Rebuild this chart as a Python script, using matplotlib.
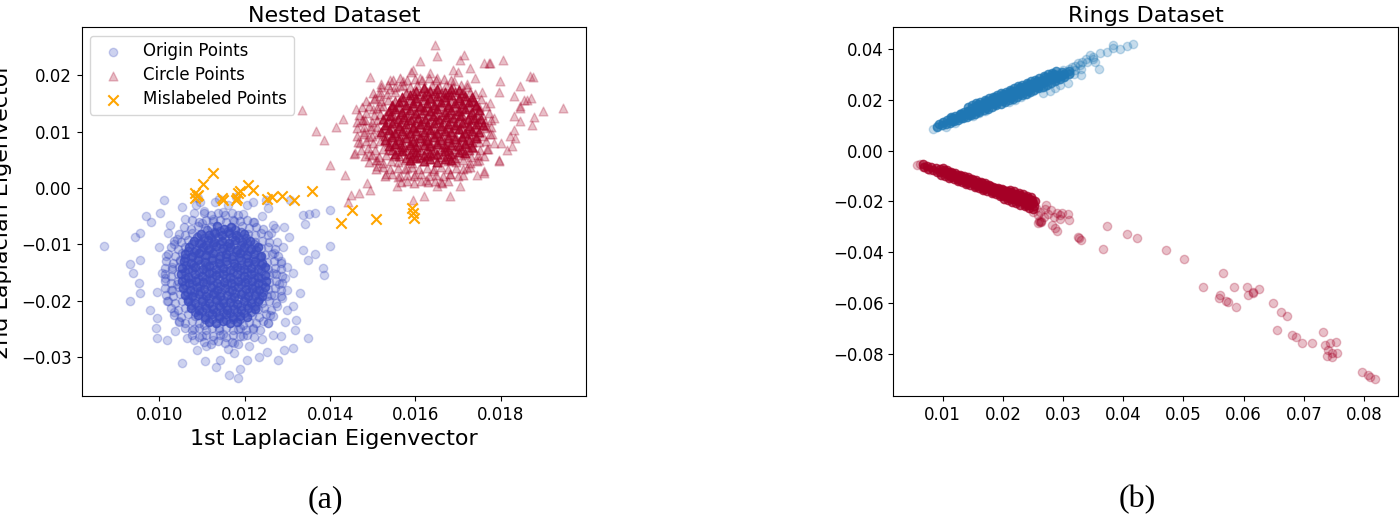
import numpy as np
import matplotlib.pyplot as plt

# --- (a) Nested dataset: values ---

# dense middle of the origin cluster
origin_core = [
    (0.01135, -0.0068), (0.01152, -0.0072), (0.01168, -0.0069),
    (0.01098, -0.0081), (0.01115, -0.0084), (0.01131, -0.0080), (0.01147, -0.0083), (0.01163, -0.0079),
    (0.01180, -0.0084), (0.01197, -0.0081),
    (0.01081, -0.0093), (0.01097, -0.0097), (0.01113, -0.0092), (0.01129, -0.0096), (0.01146, -0.0093),
    (0.01162, -0.0097), (0.01178, -0.0092), (0.01194, -0.0095), (0.01212, -0.0093),
    (0.01069, -0.0105), (0.01085, -0.0109), (0.01101, -0.0104), (0.01117, -0.0108), (0.01133, -0.0103),
    (0.01150, -0.0107), (0.01166, -0.0105), (0.01182, -0.0109), (0.01198, -0.0104), (0.01214, -0.0108),
    (0.01231, -0.0105),
    (0.01061, -0.0117), (0.01077, -0.0120), (0.01093, -0.0116), (0.01109, -0.0119), (0.01125, -0.0115),
    (0.01141, -0.0120), (0.01157, -0.0117), (0.01173, -0.0121), (0.01189, -0.0116), (0.01205, -0.0119),
    (0.01221, -0.0117), (0.01238, -0.0120),
    (0.01057, -0.0129), (0.01074, -0.0132), (0.01090, -0.0128), (0.01107, -0.0131), (0.01124, -0.0127),
    (0.01140, -0.0132), (0.01157, -0.0130), (0.01174, -0.0133), (0.01190, -0.0128), (0.01207, -0.0131),
    (0.01224, -0.0129), (0.01241, -0.0132),
    (0.01052, -0.0141), (0.01068, -0.0144), (0.01084, -0.0140), (0.01101, -0.0143), (0.01117, -0.0139),
    (0.01133, -0.0144), (0.01150, -0.0141), (0.01166, -0.0145), (0.01182, -0.0140), (0.01199, -0.0143),
    (0.01215, -0.0141), (0.01231, -0.0144), (0.01248, -0.0140),
    (0.01051, -0.0153), (0.01067, -0.0157), (0.01083, -0.0152), (0.01100, -0.0156), (0.01116, -0.0151),
    (0.01132, -0.0155), (0.01149, -0.0153), (0.01165, -0.0157), (0.01181, -0.0152), (0.01198, -0.0156),
    (0.01214, -0.0153), (0.01230, -0.0157), (0.01247, -0.0154),
    (0.01053, -0.0165), (0.01069, -0.0168), (0.01085, -0.0164), (0.01102, -0.0167), (0.01118, -0.0163),
    (0.01134, -0.0168), (0.01151, -0.0166), (0.01167, -0.0169), (0.01183, -0.0164), (0.01200, -0.0167),
    (0.01216, -0.0165), (0.01232, -0.0168), (0.01249, -0.0164),
    (0.01055, -0.0177), (0.01071, -0.0180), (0.01087, -0.0176), (0.01104, -0.0179), (0.01120, -0.0175),
    (0.01136, -0.0180), (0.01153, -0.0178), (0.01169, -0.0181), (0.01185, -0.0176), (0.01202, -0.0179),
    (0.01218, -0.0177), (0.01234, -0.0180), (0.01248, -0.0176),
    (0.01060, -0.0189), (0.01076, -0.0192), (0.01093, -0.0188), (0.01109, -0.0191), (0.01126, -0.0187),
    (0.01142, -0.0192), (0.01159, -0.0190), (0.01175, -0.0193), (0.01192, -0.0188), (0.01208, -0.0191),
    (0.01225, -0.0189), (0.01241, -0.0192),
    (0.01066, -0.0201), (0.01083, -0.0204), (0.01099, -0.0200), (0.01116, -0.0203), (0.01132, -0.0199),
    (0.01149, -0.0204), (0.01165, -0.0202), (0.01182, -0.0205), (0.01198, -0.0200), (0.01215, -0.0203),
    (0.01231, -0.0201),
    (0.01075, -0.0213), (0.01092, -0.0216), (0.01108, -0.0212), (0.01125, -0.0215), (0.01141, -0.0211),
    (0.01158, -0.0216), (0.01174, -0.0214), (0.01191, -0.0217), (0.01207, -0.0212), (0.01224, -0.0215),
    (0.01090, -0.0225), (0.01106, -0.0228), (0.01123, -0.0224), (0.01139, -0.0227), (0.01156, -0.0223),
    (0.01172, -0.0228), (0.01189, -0.0226), (0.01205, -0.0229),
    (0.01115, -0.0237), (0.01132, -0.0240), (0.01148, -0.0236), (0.01165, -0.0239), (0.01182, -0.0237),
]

# more points inside the same dense middle, between the ones above
origin_core2 = [
    (0.01111, -0.0075), (0.01127, -0.0078), (0.01143, -0.0076), (0.01160, -0.0077), (0.01176, -0.0075),
    (0.01190, -0.0078),
    (0.01089, -0.0087), (0.01105, -0.0089), (0.01121, -0.0088), (0.01138, -0.0086), (0.01154, -0.0090),
    (0.01170, -0.0087), (0.01186, -0.0089), (0.01203, -0.0088),
    (0.01077, -0.0100), (0.01093, -0.0098), (0.01109, -0.0101), (0.01125, -0.0099), (0.01141, -0.0100),
    (0.01158, -0.0102), (0.01174, -0.0099), (0.01190, -0.0101), (0.01206, -0.0098), (0.01222, -0.0100),
    (0.01066, -0.0111), (0.01082, -0.0113), (0.01098, -0.0112), (0.01114, -0.0110), (0.01130, -0.0113),
    (0.01146, -0.0111), (0.01163, -0.0112), (0.01179, -0.0114), (0.01195, -0.0111), (0.01211, -0.0112),
    (0.01227, -0.0110),
    (0.01059, -0.0124), (0.01075, -0.0122), (0.01091, -0.0125), (0.01107, -0.0123), (0.01123, -0.0124),
    (0.01139, -0.0126), (0.01155, -0.0123), (0.01171, -0.0125), (0.01187, -0.0122), (0.01203, -0.0124),
    (0.01219, -0.0125), (0.01235, -0.0123),
    (0.01062, -0.0136), (0.01078, -0.0137), (0.01094, -0.0135), (0.01110, -0.0138), (0.01126, -0.0136),
    (0.01142, -0.0137), (0.01158, -0.0135), (0.01174, -0.0138), (0.01190, -0.0136), (0.01206, -0.0137),
    (0.01222, -0.0135), (0.01238, -0.0136),
    (0.01060, -0.0148), (0.01076, -0.0146), (0.01092, -0.0149), (0.01108, -0.0147), (0.01124, -0.0148),
    (0.01140, -0.0150), (0.01157, -0.0147), (0.01173, -0.0149), (0.01189, -0.0146), (0.01205, -0.0148),
    (0.01221, -0.0149), (0.01238, -0.0147),
    (0.01059, -0.0160), (0.01075, -0.0161), (0.01091, -0.0159), (0.01108, -0.0162), (0.01124, -0.0160),
    (0.01140, -0.0161), (0.01157, -0.0159), (0.01173, -0.0162), (0.01190, -0.0160), (0.01206, -0.0161),
    (0.01222, -0.0159), (0.01239, -0.0160),
    (0.01061, -0.0172), (0.01077, -0.0170), (0.01094, -0.0173), (0.01110, -0.0171), (0.01126, -0.0172),
    (0.01143, -0.0174), (0.01159, -0.0171), (0.01175, -0.0173), (0.01192, -0.0170), (0.01208, -0.0172),
    (0.01224, -0.0173), (0.01240, -0.0171),
    (0.01064, -0.0184), (0.01080, -0.0185), (0.01096, -0.0183), (0.01113, -0.0186), (0.01129, -0.0184),
    (0.01145, -0.0185), (0.01162, -0.0183), (0.01178, -0.0186), (0.01194, -0.0184), (0.01211, -0.0185),
    (0.01227, -0.0183), (0.01243, -0.0184),
    (0.01068, -0.0196), (0.01084, -0.0194), (0.01101, -0.0197), (0.01117, -0.0195), (0.01134, -0.0196),
    (0.01150, -0.0198), (0.01167, -0.0195), (0.01183, -0.0197), (0.01200, -0.0194), (0.01216, -0.0196),
    (0.01233, -0.0197),
    (0.01074, -0.0208), (0.01091, -0.0209), (0.01107, -0.0207), (0.01124, -0.0210), (0.01140, -0.0208),
    (0.01157, -0.0209), (0.01173, -0.0207), (0.01190, -0.0210), (0.01206, -0.0208), (0.01223, -0.0209),
    (0.01083, -0.0220), (0.01100, -0.0218), (0.01116, -0.0221), (0.01133, -0.0219), (0.01149, -0.0220),
    (0.01166, -0.0222), (0.01182, -0.0219), (0.01199, -0.0221), (0.01215, -0.0220),
    (0.01106, -0.0232), (0.01123, -0.0233), (0.01139, -0.0231), (0.01156, -0.0234), (0.01172, -0.0232),
    (0.01189, -0.0233),
]

# the ring of medium density around the middle
origin_mid = [
    (0.01105, -0.0045), (0.01121, -0.0048), (0.01137, -0.0044), (0.01153, -0.0047), (0.01169, -0.0045),
    (0.01185, -0.0048),
    (0.01077, -0.0057), (0.01093, -0.0060), (0.01109, -0.0056), (0.01125, -0.0059), (0.01141, -0.0057),
    (0.01157, -0.0060), (0.01173, -0.0056), (0.01189, -0.0059), (0.01205, -0.0057), (0.01221, -0.0060),
    (0.01058, -0.0069), (0.01074, -0.0072), (0.01090, -0.0068), (0.01106, -0.0071), (0.01122, -0.0069),
    (0.01178, -0.0072), (0.01194, -0.0068), (0.01210, -0.0071), (0.01226, -0.0069), (0.01242, -0.0072),
    (0.01045, -0.0081), (0.01061, -0.0084), (0.01077, -0.0080), (0.01093, -0.0083),
    (0.01207, -0.0081), (0.01223, -0.0084), (0.01239, -0.0080), (0.01255, -0.0083),
    (0.01035, -0.0093), (0.01051, -0.0096), (0.01067, -0.0092), (0.01225, -0.0095), (0.01241, -0.0093),
    (0.01257, -0.0096),
    (0.01027, -0.0105), (0.01043, -0.0108), (0.01059, -0.0104), (0.01238, -0.0107), (0.01254, -0.0105),
    (0.01270, -0.0108),
    (0.01021, -0.0117), (0.01037, -0.0120), (0.01053, -0.0116), (0.01247, -0.0119), (0.01263, -0.0117),
    (0.01279, -0.0120),
    (0.01016, -0.0129), (0.01032, -0.0132), (0.01048, -0.0128), (0.01252, -0.0131), (0.01268, -0.0129),
    (0.01284, -0.0132),
    (0.01014, -0.0141), (0.01030, -0.0144), (0.01046, -0.0140), (0.01254, -0.0143), (0.01270, -0.0141),
    (0.01286, -0.0144),
    (0.01012, -0.0153), (0.01028, -0.0156), (0.01044, -0.0152), (0.01256, -0.0155), (0.01272, -0.0153),
    (0.01288, -0.0156),
    (0.01012, -0.0165), (0.01028, -0.0168), (0.01044, -0.0164), (0.01256, -0.0167), (0.01272, -0.0165),
    (0.01288, -0.0168),
    (0.01014, -0.0177), (0.01030, -0.0180), (0.01046, -0.0176), (0.01254, -0.0179), (0.01270, -0.0177),
    (0.01286, -0.0180),
    (0.01016, -0.0189), (0.01032, -0.0192), (0.01048, -0.0188), (0.01252, -0.0191), (0.01268, -0.0189),
    (0.01284, -0.0192),
    (0.01021, -0.0201), (0.01037, -0.0204), (0.01053, -0.0200), (0.01240, -0.0203), (0.01256, -0.0201),
    (0.01272, -0.0204),
    (0.01027, -0.0213), (0.01043, -0.0216), (0.01059, -0.0212), (0.01230, -0.0215), (0.01246, -0.0213),
    (0.01262, -0.0216),
    (0.01035, -0.0225), (0.01051, -0.0228), (0.01067, -0.0224), (0.01083, -0.0227), (0.01217, -0.0225),
    (0.01233, -0.0228), (0.01249, -0.0224), (0.01265, -0.0227),
    (0.01045, -0.0237), (0.01061, -0.0240), (0.01077, -0.0236), (0.01093, -0.0239), (0.01105, -0.0243),
    (0.01195, -0.0243), (0.01211, -0.0237), (0.01227, -0.0240), (0.01243, -0.0236), (0.01255, -0.0239),
    (0.01060, -0.0249), (0.01076, -0.0252), (0.01092, -0.0248), (0.01108, -0.0251), (0.01124, -0.0249),
    (0.01140, -0.0252), (0.01156, -0.0248), (0.01172, -0.0251), (0.01188, -0.0249), (0.01204, -0.0252),
    (0.01220, -0.0248), (0.01236, -0.0251),
    (0.01077, -0.0261), (0.01093, -0.0264), (0.01109, -0.0260), (0.01125, -0.0263), (0.01141, -0.0261),
    (0.01157, -0.0264), (0.01173, -0.0260), (0.01189, -0.0263), (0.01205, -0.0261), (0.01221, -0.0264),
    (0.01105, -0.0273), (0.01121, -0.0276), (0.01137, -0.0272), (0.01153, -0.0275), (0.01169, -0.0273),
    (0.01185, -0.0276),
]

# thinner outer part of the origin cluster
origin_edge = [
    (0.01080, -0.0045), (0.01105, -0.0040), (0.01125, -0.0055), (0.01150, -0.0042), (0.01175, -0.0058),
    (0.01195, -0.0046), (0.01220, -0.0060), (0.01240, -0.0050), (0.01100, -0.0062), (0.01160, -0.0030),
    (0.01130, -0.0025), (0.01205, -0.0030), (0.01085, -0.0030), (0.01255, -0.0035), (0.01060, -0.0055),
    (0.01265, -0.0065), (0.01090, -0.0018), (0.01140, -0.0020), (0.01180, -0.0016), (0.01250, -0.0022),
    (0.01020, -0.0080), (0.01035, -0.0100), (0.01015, -0.0120), (0.01030, -0.0140), (0.01012, -0.0160),
    (0.01028, -0.0180), (0.01018, -0.0200), (0.01035, -0.0220), (0.01040, -0.0090), (0.01040, -0.0170),
    (0.01005, -0.0150), (0.01045, -0.0235), (0.01000, -0.0105), (0.00995, -0.0185), (0.01025, -0.0065),
    (0.01048, -0.0130),
    (0.01262, -0.0080), (0.01275, -0.0095), (0.01268, -0.0115), (0.01285, -0.0130), (0.01265, -0.0150),
    (0.01280, -0.0170), (0.01262, -0.0190), (0.01275, -0.0210), (0.01258, -0.0225), (0.01290, -0.0105),
    (0.01295, -0.0160), (0.01288, -0.0195), (0.01255, -0.0240), (0.01300, -0.0140), (0.01270, -0.0070),
    (0.01298, -0.0180),
    (0.01080, -0.0250), (0.01100, -0.0262), (0.01125, -0.0270), (0.01150, -0.0258), (0.01175, -0.0275),
    (0.01195, -0.0262), (0.01220, -0.0250), (0.01240, -0.0268), (0.01110, -0.0280), (0.01160, -0.0285),
    (0.01210, -0.0280), (0.01065, -0.0265), (0.01140, -0.0248), (0.01185, -0.0250),
    (0.00871, -0.0102), (0.00932, -0.0201), (0.00932, -0.0135), (0.00943, -0.0086), (0.00953, -0.0168),
    (0.00969, -0.0049), (0.01011, -0.0021), (0.01053, -0.0311), (0.00995, -0.0265), (0.00994, -0.0230),
    (0.01185, -0.0337), (0.01162, -0.0331), (0.01133, -0.0317), (0.01107, -0.0306), (0.01143, -0.0305),
    (0.01189, -0.0320), (0.01234, -0.0300), (0.01279, -0.0305), (0.01313, -0.0283), (0.01349, -0.0266),
    (0.01318, -0.0252), (0.01284, -0.0263), (0.01265, -0.0261), (0.01320, -0.0234), (0.01330, -0.0186),
    (0.01336, -0.0110), (0.01365, -0.0117), (0.01349, -0.0128), (0.01383, -0.0142), (0.01386, -0.0154),
    (0.01400, -0.0102), (0.01399, -0.0039), (0.01365, -0.0044), (0.01351, -0.0046), (0.01337, -0.0048),
    (0.01341, -0.0064), (0.01306, -0.0021), (0.01292, -0.0069), (0.01303, -0.0086), (0.01220, -0.0024),
    (0.01095, -0.0024), (0.01054, -0.0033), (0.01001, -0.0045), (0.00981, -0.0061), (0.00954, -0.0080),
    (0.00954, -0.0127), (0.00938, -0.0151), (0.00954, -0.0186), (0.00977, -0.0216), (0.00993, -0.0248),
    (0.01017, -0.0269), (0.01037, -0.0254), (0.01088, -0.0287), (0.01080, -0.0269), (0.01174, -0.0293),
    (0.01205, -0.0305), (0.01252, -0.0290), (0.01291, -0.0287), (0.01295, -0.0237), (0.01299, -0.0216),
    (0.01314, -0.0151), (0.01314, -0.0210),
]

# dense middle of the circle cluster
circle_core = [
    (0.01586, 0.0049), (0.01602, 0.0053), (0.01619, 0.0048), (0.01635, 0.0052), (0.01651, 0.0047),
    (0.01668, 0.0051), (0.01684, 0.0050),
    (0.01553, 0.0061), (0.01569, 0.0065), (0.01586, 0.0060), (0.01602, 0.0064), (0.01619, 0.0059),
    (0.01635, 0.0063), (0.01651, 0.0061), (0.01668, 0.0065), (0.01684, 0.0060), (0.01701, 0.0064),
    (0.01717, 0.0062),
    (0.01537, 0.0074), (0.01553, 0.0078), (0.01569, 0.0073), (0.01586, 0.0077), (0.01602, 0.0072),
    (0.01619, 0.0076), (0.01635, 0.0074), (0.01651, 0.0078), (0.01668, 0.0073), (0.01684, 0.0077),
    (0.01701, 0.0075), (0.01717, 0.0079), (0.01733, 0.0073),
    (0.01528, 0.0086), (0.01545, 0.0090), (0.01561, 0.0085), (0.01578, 0.0089), (0.01594, 0.0084),
    (0.01610, 0.0088), (0.01627, 0.0086), (0.01643, 0.0090), (0.01660, 0.0085), (0.01676, 0.0089),
    (0.01692, 0.0087), (0.01709, 0.0091), (0.01725, 0.0085), (0.01742, 0.0088),
    (0.01520, 0.0099), (0.01537, 0.0103), (0.01553, 0.0098), (0.01569, 0.0102), (0.01586, 0.0097),
    (0.01602, 0.0101), (0.01619, 0.0099), (0.01635, 0.0103), (0.01651, 0.0098), (0.01668, 0.0102),
    (0.01684, 0.0100), (0.01701, 0.0104), (0.01717, 0.0098), (0.01733, 0.0101), (0.01750, 0.0099),
    (0.01528, 0.0111), (0.01545, 0.0115), (0.01561, 0.0110), (0.01578, 0.0114), (0.01594, 0.0109),
    (0.01610, 0.0113), (0.01627, 0.0111), (0.01643, 0.0115), (0.01660, 0.0110), (0.01676, 0.0114),
    (0.01692, 0.0112), (0.01709, 0.0116), (0.01725, 0.0110), (0.01742, 0.0113), (0.01758, 0.0111),
    (0.01525, 0.0123), (0.01541, 0.0127), (0.01558, 0.0122), (0.01574, 0.0126), (0.01590, 0.0121),
    (0.01607, 0.0125), (0.01623, 0.0123), (0.01640, 0.0127), (0.01656, 0.0122), (0.01672, 0.0126),
    (0.01689, 0.0124), (0.01705, 0.0128), (0.01722, 0.0122), (0.01738, 0.0125), (0.01754, 0.0123),
    (0.01537, 0.0136), (0.01553, 0.0140), (0.01569, 0.0135), (0.01586, 0.0139), (0.01602, 0.0134),
    (0.01619, 0.0138), (0.01635, 0.0136), (0.01651, 0.0140), (0.01668, 0.0135), (0.01684, 0.0139),
    (0.01701, 0.0137), (0.01717, 0.0141), (0.01733, 0.0135), (0.01750, 0.0138),
    (0.01545, 0.0148), (0.01561, 0.0152), (0.01578, 0.0147), (0.01594, 0.0151), (0.01610, 0.0146),
    (0.01627, 0.0150), (0.01643, 0.0148), (0.01660, 0.0152), (0.01676, 0.0147), (0.01692, 0.0151),
    (0.01709, 0.0149), (0.01725, 0.0153), (0.01742, 0.0147),
    (0.01569, 0.0161), (0.01586, 0.0165), (0.01602, 0.0160), (0.01619, 0.0164), (0.01635, 0.0159),
    (0.01651, 0.0163), (0.01668, 0.0161), (0.01684, 0.0165), (0.01701, 0.0160), (0.01717, 0.0164),
    (0.01733, 0.0162),
    (0.01602, 0.0173), (0.01619, 0.0177), (0.01635, 0.0172), (0.01651, 0.0176), (0.01668, 0.0171),
    (0.01684, 0.0175), (0.01701, 0.0174),
]

circle_core2 = [
    (0.01561, 0.0056), (0.01577, 0.0054), (0.01594, 0.0057), (0.01610, 0.0055), (0.01627, 0.0056),
    (0.01643, 0.0058), (0.01659, 0.0055), (0.01676, 0.0057), (0.01692, 0.0054),
    (0.01545, 0.0068), (0.01561, 0.0069), (0.01577, 0.0067), (0.01594, 0.0070), (0.01610, 0.0068),
    (0.01627, 0.0069), (0.01643, 0.0067), (0.01659, 0.0070), (0.01676, 0.0068), (0.01692, 0.0069),
    (0.01709, 0.0067), (0.01725, 0.0068),
    (0.01537, 0.0081), (0.01553, 0.0079), (0.01569, 0.0082), (0.01586, 0.0080), (0.01602, 0.0081),
    (0.01619, 0.0083), (0.01635, 0.0080), (0.01651, 0.0082), (0.01668, 0.0079), (0.01684, 0.0081),
    (0.01701, 0.0082), (0.01717, 0.0080), (0.01733, 0.0081),
    (0.01528, 0.0093), (0.01545, 0.0094), (0.01561, 0.0092), (0.01577, 0.0095), (0.01594, 0.0093),
    (0.01610, 0.0094), (0.01627, 0.0092), (0.01643, 0.0095), (0.01659, 0.0093), (0.01676, 0.0094),
    (0.01692, 0.0092), (0.01709, 0.0093), (0.01725, 0.0095), (0.01741, 0.0093),
    (0.01528, 0.0106), (0.01545, 0.0104), (0.01561, 0.0107), (0.01577, 0.0105), (0.01594, 0.0106),
    (0.01610, 0.0108), (0.01627, 0.0105), (0.01643, 0.0107), (0.01659, 0.0104), (0.01676, 0.0106),
    (0.01692, 0.0107), (0.01709, 0.0105), (0.01725, 0.0106), (0.01741, 0.0104),
    (0.01533, 0.0118), (0.01550, 0.0119), (0.01566, 0.0117), (0.01582, 0.0120), (0.01599, 0.0118),
    (0.01615, 0.0119), (0.01631, 0.0117), (0.01648, 0.0120), (0.01664, 0.0118), (0.01680, 0.0119),
    (0.01697, 0.0117), (0.01713, 0.0118), (0.01730, 0.0120), (0.01746, 0.0118),
    (0.01531, 0.0130), (0.01547, 0.0129), (0.01563, 0.0132), (0.01580, 0.0130), (0.01596, 0.0131),
    (0.01612, 0.0133), (0.01629, 0.0130), (0.01645, 0.0132), (0.01661, 0.0129), (0.01678, 0.0131),
    (0.01694, 0.0132), (0.01710, 0.0130), (0.01727, 0.0131), (0.01743, 0.0129),
    (0.01545, 0.0143), (0.01561, 0.0144), (0.01577, 0.0142), (0.01594, 0.0145), (0.01610, 0.0143),
    (0.01627, 0.0144), (0.01643, 0.0142), (0.01659, 0.0145), (0.01676, 0.0143), (0.01692, 0.0144),
    (0.01709, 0.0142), (0.01725, 0.0143), (0.01741, 0.0145),
    (0.01553, 0.0155), (0.01569, 0.0154), (0.01586, 0.0157), (0.01602, 0.0155), (0.01619, 0.0156),
    (0.01635, 0.0158), (0.01651, 0.0155), (0.01668, 0.0157), (0.01684, 0.0154), (0.01701, 0.0156),
    (0.01717, 0.0157), (0.01733, 0.0155),
    (0.01577, 0.0168), (0.01594, 0.0169), (0.01610, 0.0167), (0.01627, 0.0170), (0.01643, 0.0168),
    (0.01659, 0.0169), (0.01676, 0.0167), (0.01692, 0.0170), (0.01709, 0.0168),
]

circle_mid = [
    (0.01565, 0.0010), (0.01581, 0.0013), (0.01597, 0.0009), (0.01613, 0.0012), (0.01629, 0.0010),
    (0.01645, 0.0013), (0.01661, 0.0009), (0.01677, 0.0012),
    (0.01529, 0.0022), (0.01546, 0.0025), (0.01563, 0.0021), (0.01580, 0.0024), (0.01597, 0.0022),
    (0.01614, 0.0025), (0.01631, 0.0021), (0.01648, 0.0024), (0.01665, 0.0022), (0.01682, 0.0025),
    (0.01699, 0.0021), (0.01712, 0.0024),
    (0.01507, 0.0034), (0.01524, 0.0037), (0.01541, 0.0033), (0.01558, 0.0036), (0.01575, 0.0034),
    (0.01592, 0.0037), (0.01609, 0.0033), (0.01626, 0.0036), (0.01643, 0.0034), (0.01660, 0.0037),
    (0.01677, 0.0033), (0.01694, 0.0036), (0.01711, 0.0034), (0.01728, 0.0037),
    (0.01491, 0.0046), (0.01508, 0.0049), (0.01525, 0.0045), (0.01542, 0.0048), (0.01559, 0.0046),
    (0.01576, 0.0049), (0.01593, 0.0045), (0.01677, 0.0048), (0.01694, 0.0046), (0.01711, 0.0049),
    (0.01728, 0.0045), (0.01745, 0.0048),
    (0.01481, 0.0056), (0.01498, 0.0059), (0.01515, 0.0055), (0.01532, 0.0058), (0.01549, 0.0056),
    (0.01712, 0.0059), (0.01729, 0.0055), (0.01746, 0.0058), (0.01760, 0.0056),
    (0.01472, 0.0068), (0.01489, 0.0071), (0.01506, 0.0067), (0.01523, 0.0070), (0.01538, 0.0068),
    (0.01735, 0.0071), (0.01752, 0.0067), (0.01768, 0.0070),
    (0.01466, 0.0081), (0.01483, 0.0084), (0.01500, 0.0080), (0.01517, 0.0083), (0.01748, 0.0081),
    (0.01765, 0.0084),
    (0.01463, 0.0093), (0.01480, 0.0096), (0.01497, 0.0092), (0.01512, 0.0095), (0.01758, 0.0093),
    (0.01775, 0.0096),
    (0.01462, 0.0106), (0.01479, 0.0109), (0.01496, 0.0105), (0.01509, 0.0108), (0.01762, 0.0106),
    (0.01778, 0.0109),
    (0.01464, 0.0118), (0.01481, 0.0121), (0.01498, 0.0117), (0.01510, 0.0120), (0.01762, 0.0118),
    (0.01776, 0.0121),
    (0.01468, 0.0130), (0.01485, 0.0133), (0.01502, 0.0129), (0.01516, 0.0132), (0.01757, 0.0130),
    (0.01772, 0.0133),
    (0.01475, 0.0143), (0.01492, 0.0146), (0.01509, 0.0142), (0.01523, 0.0145), (0.01750, 0.0143),
    (0.01765, 0.0146),
    (0.01485, 0.0155), (0.01502, 0.0158), (0.01519, 0.0154), (0.01535, 0.0157), (0.01736, 0.0155),
    (0.01753, 0.0158),
    (0.01500, 0.0168), (0.01517, 0.0171), (0.01534, 0.0167), (0.01551, 0.0170), (0.01711, 0.0168),
    (0.01728, 0.0171), (0.01740, 0.0167),
    (0.01519, 0.0180), (0.01536, 0.0183), (0.01553, 0.0179), (0.01570, 0.0182), (0.01587, 0.0180),
    (0.01604, 0.0183), (0.01621, 0.0179), (0.01638, 0.0182), (0.01655, 0.0180), (0.01672, 0.0183),
    (0.01689, 0.0179), (0.01706, 0.0182), (0.01721, 0.0180),
    (0.01547, 0.0192), (0.01564, 0.0195), (0.01581, 0.0191), (0.01598, 0.0194), (0.01615, 0.0192),
    (0.01632, 0.0195), (0.01649, 0.0191), (0.01666, 0.0194), (0.01683, 0.0192),
]

# thinner outer part of the circle cluster
circle_edge = [
    (0.01334, 0.01378), (0.01367, 0.01017), (0.01386, 0.00846), (0.01400, 0.00414), (0.01414, 0.01082),
    (0.01430, 0.01224), (0.01436, 0.00236), (0.01443, -0.00255), (0.01450, -0.00118), (0.01467, -0.00089),
    (0.01493, 0.01970), (0.01459, 0.00621), (0.01486, 0.00088), (0.01494, -0.00030), (0.01517, 0.01449),
    (0.01541, 0.01922), (0.01556, 0.00029), (0.01595, 0.02100), (0.01611, 0.02248), (0.01646, 0.02544),
    (0.01650, 0.02337), (0.01681, -0.00148), (0.01650, 0.00029), (0.01619, -0.00148), (0.01713, 0.02366),
    (0.01705, 0.02278), (0.01728, 0.02130), (0.01760, 0.02219), (0.01775, 0.02219), (0.01805, 0.02266),
    (0.01799, 0.01893), (0.01795, 0.00502), (0.01760, 0.00266), (0.01744, 0.00236), (0.01705, 0.00029),
    (0.01830, 0.01272), (0.01846, 0.01449), (0.01861, 0.01568), (0.01846, 0.01804), (0.01822, 0.00917),
    (0.01830, 0.01035), (0.01783, 0.00798), (0.01814, 0.00680), (0.01595, -0.00207), (0.01510, 0.00502),
    (0.01478, 0.01212), (0.01517, 0.01627), (0.01564, 0.01804), (0.01635, 0.02041), (0.01689, 0.02100),
    (0.01945, 0.01419), (0.01898, 0.01372), (0.01877, 0.01260), (0.01873, 0.01124), (0.01871, 0.01597),
    (0.01868, 0.01993), (0.01876, 0.01970), (0.01854, 0.01568), (0.01846, 0.01419), (0.01844, 0.01183),
    (0.01830, 0.01627), (0.01834, 0.00887), (0.01795, 0.00473), (0.01772, 0.02218), (0.01826, 0.00739),
    (0.01470, 0.0080), (0.01480, 0.0100), (0.01475, 0.0120), (0.01490, 0.0060), (0.01500, 0.0140),
    (0.01510, 0.0040), (0.01505, 0.0160), (0.01530, 0.0025), (0.01540, 0.0175), (0.01560, 0.0020),
    (0.01570, 0.0190), (0.01600, 0.0025), (0.01610, 0.0195), (0.01640, 0.0030), (0.01650, 0.0195),
    (0.01680, 0.0025), (0.01690, 0.0190), (0.01720, 0.0035), (0.01720, 0.0185), (0.01750, 0.0050),
    (0.01755, 0.0170), (0.01770, 0.0070), (0.01775, 0.0150), (0.01780, 0.0095), (0.01785, 0.0125),
    (0.01765, 0.0110), (0.01490, 0.0090), (0.01495, 0.0110), (0.01520, 0.0185), (0.01580, 0.0035),
    (0.01625, 0.0015), (0.01700, 0.0205), (0.01740, 0.0195), (0.01760, 0.0030), (0.01460, 0.0140),
    (0.01455, 0.0060), (0.01795, 0.0170), (0.01800, 0.0080), (0.01660, 0.0010), (0.01590, 0.0205),
]

mislabeled = [
    (0.011266, 0.00266), (0.011032, 0.00077), (0.010836, -0.00089), (0.010891, -0.00148),
    (0.010836, -0.00178), (0.010915, -0.00118), (0.011461, -0.00178), (0.011500, -0.00207),
    (0.011813, -0.00178), (0.011852, -0.00089), (0.011891, -0.00059), (0.011798, -0.00207),
    (0.012071, 0.00059), (0.012188, -0.00030), (0.012517, -0.00189), (0.012634, -0.00166),
    (0.012868, -0.00148), (0.013142, -0.00219), (0.013572, -0.00059), (0.014252, -0.00621),
    (0.014510, -0.00396), (0.015072, -0.00544), (0.015916, -0.00355), (0.015955, -0.00533),
    (0.015939, -0.00444),
]

# --- (b) Rings dataset ---

rings_blue_core = [
    (0.0091, 0.0095), (0.0093, 0.0105), (0.0098, 0.0100), (0.0100, 0.0112), (0.0105, 0.0107), (0.0107, 0.0119),
    (0.0112, 0.0109), (0.0113, 0.0120), (0.0114, 0.0131), (0.0119, 0.0116), (0.0120, 0.0127), (0.0121, 0.0138),
    (0.0126, 0.0122), (0.0127, 0.0133), (0.0128, 0.0144), (0.0133, 0.0129), (0.0134, 0.0140), (0.0135, 0.0151),
    (0.0140, 0.0131), (0.0141, 0.0145), (0.0142, 0.0158), (0.0147, 0.0139), (0.0148, 0.0153), (0.0149, 0.0167),
    (0.0154, 0.0146), (0.0155, 0.0160), (0.0156, 0.0174), (0.0161, 0.0152), (0.0162, 0.0167), (0.0163, 0.0181),
    (0.0168, 0.0159), (0.0169, 0.0174), (0.0170, 0.0188), (0.0175, 0.0165), (0.0176, 0.0180), (0.0177, 0.0195),
    (0.0182, 0.0172), (0.0183, 0.0187), (0.0184, 0.0202), (0.0189, 0.0178), (0.0190, 0.0194), (0.0191, 0.0209),
    (0.0196, 0.0185), (0.0197, 0.0200), (0.0198, 0.0215), (0.0203, 0.0191), (0.0204, 0.0207), (0.0205, 0.0222),
    (0.0210, 0.0198), (0.0211, 0.0214), (0.0212, 0.0229), (0.0217, 0.0205), (0.0218, 0.0220), (0.0219, 0.0235),
    (0.0224, 0.0211), (0.0225, 0.0227), (0.0226, 0.0242), (0.0231, 0.0218), (0.0232, 0.0234), (0.0233, 0.0249),
    (0.0238, 0.0224), (0.0239, 0.0240), (0.0240, 0.0255), (0.0245, 0.0231), (0.0246, 0.0247), (0.0247, 0.0262),
    (0.0252, 0.0238), (0.0253, 0.0254), (0.0254, 0.0268), (0.0259, 0.0245), (0.0260, 0.0260), (0.0261, 0.0274),
    (0.0266, 0.0252), (0.0267, 0.0267), (0.0268, 0.0280), (0.0273, 0.0260), (0.0274, 0.0274), (0.0275, 0.0286),
    (0.0280, 0.0268), (0.0281, 0.0281), (0.0282, 0.0292), (0.0287, 0.0276), (0.0288, 0.0288), (0.0289, 0.0299),
    (0.0116, 0.0116), (0.0116, 0.0130), (0.0130, 0.0129), (0.0130, 0.0143), (0.0144, 0.0142), (0.0144, 0.0157),
    (0.0158, 0.0156), (0.0158, 0.0170), (0.0172, 0.0169), (0.0172, 0.0183), (0.0186, 0.0183), (0.0186, 0.0197),
    (0.0200, 0.0196), (0.0200, 0.0210), (0.0214, 0.0209), (0.0214, 0.0223), (0.0228, 0.0223), (0.0228, 0.0237),
    (0.0242, 0.0236), (0.0242, 0.0250), (0.0256, 0.0250), (0.0256, 0.0264),
    (0.01415, 0.0173), (0.01485, 0.0179), (0.01555, 0.0186), (0.01625, 0.0193), (0.01695, 0.0199),
    (0.01765, 0.0206), (0.01835, 0.0213), (0.01905, 0.0220), (0.01975, 0.0226), (0.02045, 0.0233),
    (0.02115, 0.0240), (0.02185, 0.0246), (0.02255, 0.0253), (0.02325, 0.0260), (0.02395, 0.0266),
    (0.02465, 0.0273), (0.02535, 0.0280), (0.02605, 0.0286), (0.02675, 0.0293), (0.02745, 0.0300),
    (0.02815, 0.0306), (0.02885, 0.0313),
    (0.0158, 0.0183), (0.0172, 0.0196), (0.0186, 0.0210), (0.0200, 0.0223), (0.0214, 0.0236),
    (0.0228, 0.0250), (0.0242, 0.0263), (0.0256, 0.0276), (0.0270, 0.0290), (0.0284, 0.0303),
    (0.0298, 0.0297), (0.0298, 0.0310), (0.0295, 0.0283), (0.0295, 0.0295), (0.0302, 0.0290),
    (0.0302, 0.0303), (0.0309, 0.0300), (0.0309, 0.0312),
]

rings_blue_edge = [
    (0.00832, 0.00841), (0.00909, 0.00972), (0.01053, 0.00946), (0.01009, 0.01143), (0.01120, 0.01274),
    (0.04156, 0.04188), (0.04056, 0.04122), (0.03945, 0.03990), (0.03834, 0.04162), (0.03823, 0.04030),
    (0.03723, 0.03899), (0.03613, 0.03834), (0.03601, 0.03217), (0.03502, 0.03701), (0.03446, 0.03767),
    (0.03380, 0.03597), (0.03308, 0.03505), (0.03281, 0.03374), (0.03292, 0.02980), (0.03197, 0.03177),
    (0.03086, 0.02678), (0.03114, 0.03046), (0.02948, 0.02586), (0.03003, 0.03177), (0.02865, 0.02455),
    (0.02782, 0.02363), (0.02671, 0.02258), (0.03530, 0.03505),
    (0.0295, 0.0305), (0.0300, 0.0295), (0.0305, 0.0310), (0.0310, 0.0320), (0.0315, 0.0330), (0.0320, 0.0335),
    (0.0325, 0.0345), (0.0290, 0.0280), (0.0285, 0.0300), (0.0278, 0.0292), (0.0270, 0.0255), (0.0262, 0.0248),
    (0.0250, 0.0235), (0.0240, 0.0225), (0.0230, 0.0213), (0.0220, 0.0200), (0.0210, 0.0190), (0.0200, 0.0218),
    (0.0190, 0.0212), (0.0180, 0.0198), (0.0170, 0.0155), (0.0160, 0.0148), (0.0150, 0.0135), (0.0140, 0.0158),
    (0.0130, 0.0148), (0.0120, 0.0110), (0.0340, 0.0350), (0.0350, 0.0362), (0.0330, 0.0320), (0.0318, 0.0300),
]

rings_red_core = [
    (0.0067, -0.0053), (0.0069, -0.0064), (0.0074, -0.0059), (0.0076, -0.0071), (0.0081, -0.0065), (0.0083, -0.0077),
    (0.0088, -0.0070), (0.0090, -0.0083), (0.0095, -0.0071), (0.0096, -0.0083), (0.0097, -0.0094),
    (0.0102, -0.0077), (0.0103, -0.0089), (0.0104, -0.0100), (0.0109, -0.0083), (0.0110, -0.0094), (0.0111, -0.0106),
    (0.0116, -0.0089), (0.0117, -0.0100), (0.0118, -0.0112), (0.0123, -0.0094), (0.0124, -0.0106), (0.0125, -0.0118),
    (0.0130, -0.0100), (0.0131, -0.0112), (0.0132, -0.0124), (0.0137, -0.0106), (0.0138, -0.0118), (0.0139, -0.0130),
    (0.0144, -0.0112), (0.0145, -0.0124), (0.0146, -0.0136), (0.0151, -0.0117), (0.0152, -0.0130), (0.0153, -0.0142),
    (0.0158, -0.0123), (0.0159, -0.0136), (0.0160, -0.0148), (0.0165, -0.0129), (0.0166, -0.0141), (0.0167, -0.0154),
    (0.0172, -0.0135), (0.0173, -0.0147), (0.0174, -0.0160), (0.0179, -0.0140), (0.0180, -0.0153), (0.0181, -0.0166),
    (0.0186, -0.0146), (0.0187, -0.0159), (0.0188, -0.0172), (0.0193, -0.0151), (0.0194, -0.0165), (0.0195, -0.0179),
    (0.0200, -0.0153), (0.0201, -0.0165), (0.0202, -0.0177), (0.0201, -0.0189),
    (0.0207, -0.0159), (0.0208, -0.0171), (0.0209, -0.0183), (0.0208, -0.0195),
    (0.0214, -0.0165), (0.0215, -0.0177), (0.0216, -0.0189), (0.0215, -0.0201),
    (0.0221, -0.0171), (0.0222, -0.0183), (0.0223, -0.0195), (0.0222, -0.0207),
    (0.0228, -0.0176), (0.0229, -0.0188), (0.0230, -0.0200), (0.0229, -0.0213),
    (0.0235, -0.0182), (0.0236, -0.0194), (0.0237, -0.0206), (0.0236, -0.0219),
    (0.0242, -0.0188), (0.0243, -0.0200), (0.0244, -0.0212), (0.0243, -0.0225),
    (0.0249, -0.0194), (0.0250, -0.0206), (0.0251, -0.0218), (0.0250, -0.0231),
    (0.0113, -0.0091), (0.0113, -0.0103), (0.0127, -0.0103), (0.0127, -0.0115), (0.0141, -0.0114), (0.0141, -0.0126),
    (0.0155, -0.0126), (0.0155, -0.0138), (0.0169, -0.0138), (0.0169, -0.0150), (0.0183, -0.0150), (0.0183, -0.0162),
    (0.0197, -0.0160), (0.0197, -0.0175), (0.0211, -0.0170), (0.0211, -0.0188), (0.0225, -0.0182), (0.0225, -0.0200),
    (0.0239, -0.0193), (0.0239, -0.0212),
    (0.0100, -0.0070), (0.0107, -0.0076), (0.0114, -0.0082), (0.0121, -0.0088), (0.0128, -0.0094),
    (0.0135, -0.0099), (0.0142, -0.0105), (0.0149, -0.0111), (0.0156, -0.0117), (0.0163, -0.0123),
    (0.0170, -0.0129), (0.0177, -0.0135), (0.0184, -0.0141), (0.0191, -0.0146), (0.0198, -0.0152),
    (0.0205, -0.0158), (0.0212, -0.0164), (0.0212, -0.0154), (0.0219, -0.0170), (0.0219, -0.0160),
    (0.0226, -0.0176), (0.0226, -0.0166), (0.0233, -0.0182), (0.0233, -0.0172), (0.0240, -0.0188),
    (0.0240, -0.0178), (0.0247, -0.0194), (0.0247, -0.0184), (0.0254, -0.0199),
]

rings_red_edge = [
    (0.00577, -0.00563), (0.00677, -0.00629), (0.00787, -0.00760), (0.0062, -0.0052),
    (0.03086, -0.02493), (0.03097, -0.02729), (0.02893, -0.03149), (0.02865, -0.03057), (0.02810, -0.02926),
    (0.02976, -0.02467), (0.02948, -0.02703), (0.02615, -0.02795), (0.02600, -0.0278), (0.02625, -0.0282),
    (0.02640, -0.0276), (0.02590, -0.0283),
    (0.0255, -0.0225), (0.0262, -0.0240), (0.0270, -0.0230), (0.0275, -0.0250), (0.0280, -0.0235),
    (0.0285, -0.0262), (0.0268, -0.0262), (0.0290, -0.0245), (0.0258, -0.0255), (0.0295, -0.0255),
    (0.0272, -0.0215), (0.0250, -0.0240),
]

# points that run off towards the bottom right
rings_red_tail = [
    (0.03723, -0.02965), (0.04066, -0.03281), (0.04221, -0.03451), (0.03657, -0.03883), (0.03269, -0.03451),
    (0.03291, -0.03516), (0.03252, -0.03411), (0.04709, -0.03909), (0.05014, -0.04264), (0.05651, -0.04802),
    (0.05330, -0.05380), (0.05607, -0.05682), (0.05596, -0.05813), (0.05735, -0.05971), (0.05707, -0.05905),
    (0.05873, -0.06167), (0.05840, -0.05380), (0.06061, -0.05354), (0.06078, -0.05682), (0.06161, -0.05551),
    (0.06150, -0.05617), (0.06250, -0.05460), (0.06493, -0.06009), (0.06621, -0.06337), (0.06715, -0.06508),
    (0.06549, -0.07059), (0.06798, -0.07256), (0.06870, -0.07348), (0.06964, -0.07558), (0.07130, -0.07558),
    (0.07313, -0.07151), (0.07352, -0.07650), (0.07435, -0.07584), (0.07529, -0.07518), (0.07390, -0.08083),
    (0.07407, -0.07847), (0.07462, -0.07978), (0.07545, -0.07978), (0.07462, -0.08109), (0.07961, -0.08726),
    (0.08072, -0.08831), (0.08100, -0.08897), (0.08183, -0.08989),
]

blue_a = '#3b4cc0'
red = '#a50026'
blue_b = '#1f77b4'


def xy(points):
    a = np.array(points)
    return a[:, 0], a[:, 1]


fig = plt.figure(figsize=(14, 5.15), dpi=100)
ax1 = fig.add_axes([0.0584, 0.2311, 0.3600, 0.7159])
ax2 = fig.add_axes([0.6382, 0.2311, 0.3607, 0.7159])

ax1.scatter(*xy(origin_edge), color=blue_a, alpha=0.25, s=36, label='Origin Points')
ax1.scatter(*xy(origin_mid), color=blue_a, alpha=0.3, s=36)
ax1.scatter(*xy(origin_core2), color=blue_a, alpha=0.5, s=36)
ax1.scatter(*xy(origin_core), color=blue_a, alpha=0.75, s=36)
ax1.scatter(*xy(circle_edge), color=red, alpha=0.25, s=40, marker='^', label='Circle Points')
ax1.scatter(*xy(circle_mid), color=red, alpha=0.3, s=40, marker='^')
ax1.scatter(*xy(circle_core2), color=red, alpha=0.5, s=40, marker='^')
ax1.scatter(*xy(circle_core), color=red, alpha=0.75, s=40, marker='^')
ax1.scatter(*xy(mislabeled), color='orange', s=55, marker='x', linewidths=1.5, label='Mislabeled Points')

ax1.set_xlim(0.00818, 0.01999)
ax1.set_ylim(-0.03687, 0.02851)
ax1.set_title('Nested Dataset', fontsize=16, pad=4)
ax1.set_xlabel('1st Laplacian Eigenvector', fontsize=16)
ax1.set_ylabel('2nd Laplacian Eigenvector', fontsize=16, labelpad=6.5)
ax1.tick_params(labelsize=12)
ax1.legend(loc='upper left', fontsize=12, labelspacing=0.35)

ax2.scatter(*xy(rings_blue_edge), color=blue_b, alpha=0.25, s=36)
ax2.scatter(*xy(rings_blue_core), color=blue_b, alpha=0.7, s=36)
ax2.scatter(*xy(rings_red_edge + rings_red_tail), color=red, alpha=0.25, s=36)
ax2.scatter(*xy(rings_red_core), color=red, alpha=0.7, s=36)

ax2.set_xlim(0.00181, 0.08573)
ax2.set_ylim(-0.09657, 0.04858)
ax2.set_title('Rings Dataset', fontsize=16, pad=4)
ax2.tick_params(labelsize=12)

fig.text(0.2321, 0.03, '(a)', family='Liberation Serif', fontsize=23, ha='center', va='center')
fig.text(0.8121, 0.03, '(b)', family='Liberation Serif', fontsize=23, ha='center', va='center')

fig.savefig('out.png', dpi=100)
